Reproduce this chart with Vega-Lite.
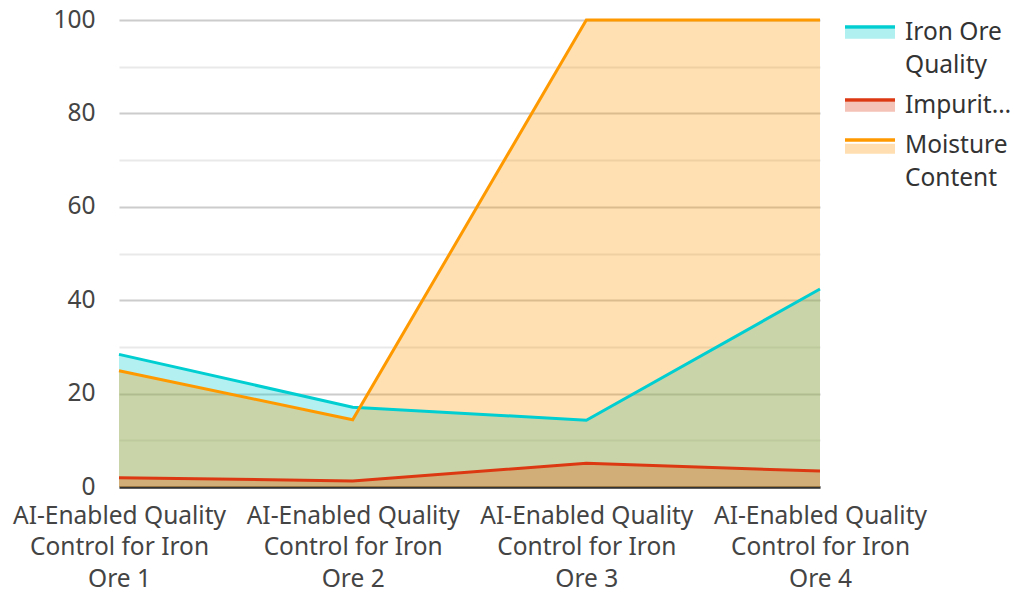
{
  "$schema": "https://vega.github.io/schema/vega-lite/v6.json",
  "width": 701,
  "height": 467,
  "autosize": {"type": "none"},
  "padding": {"left": 119, "top": 20, "right": 194, "bottom": 105},
  "background": "white",
  "config": {
    "font": "Noto Sans",
    "view": {"stroke": null},
    "axis": {"labelFont": "Noto Sans", "labelColor": "#444", "labelFontSize": 24.5},
    "legend": {"labelFont": "Noto Sans", "labelColor": "#333", "labelFontSize": 24.5}
  },
  "data": {
    "values": [
      {"cat": "AI-Enabled Quality Control for Iron Ore 1", "series": "Iron Ore Quality", "value": 28.4},
      {"cat": "AI-Enabled Quality Control for Iron Ore 2", "series": "Iron Ore Quality", "value": 17.1},
      {"cat": "AI-Enabled Quality Control for Iron Ore 3", "series": "Iron Ore Quality", "value": 14.3},
      {"cat": "AI-Enabled Quality Control for Iron Ore 4", "series": "Iron Ore Quality", "value": 42.4},
      {"cat": "AI-Enabled Quality Control for Iron Ore 1", "series": "Impurities", "value": 2.0},
      {"cat": "AI-Enabled Quality Control for Iron Ore 2", "series": "Impurities", "value": 1.3},
      {"cat": "AI-Enabled Quality Control for Iron Ore 3", "series": "Impurities", "value": 5.1},
      {"cat": "AI-Enabled Quality Control for Iron Ore 4", "series": "Impurities", "value": 3.4},
      {"cat": "AI-Enabled Quality Control for Iron Ore 1", "series": "Moisture Content", "value": 24.9},
      {"cat": "AI-Enabled Quality Control for Iron Ore 2", "series": "Moisture Content", "value": 14.4},
      {"cat": "AI-Enabled Quality Control for Iron Ore 3", "series": "Moisture Content", "value": 100},
      {"cat": "AI-Enabled Quality Control for Iron Ore 4", "series": "Moisture Content", "value": 100}
    ]
  },
  "encoding": {
    "x": {
      "field": "cat", "type": "ordinal", "title": null,
      "scale": {"type": "point", "padding": 0},
      "axis": {
        "labelAngle": 0, "ticks": false, "grid": false,
        "domainColor": "#333", "domainWidth": 2.5,
        "labelPadding": 17, "labelBaseline": "top", "labelLineHeight": 31.5,
        "labelLimit": 0,
        "labelExpr": "['AI-Enabled Quality', 'Control for Iron', replace(datum.label, 'AI-Enabled Quality Control for Iron ', '')]"
      }
    },
    "y": {
      "field": "value", "type": "quantitative", "title": null, "stack": null,
      "scale": {"domain": [0, 100], "nice": false},
      "axis": {
        "values": [0, 10, 20, 30, 40, 50, 60, 70, 80, 90, 100],
        "labelExpr": "datum.value % 20 == 0 ? datum.label : ''",
        "domain": false, "ticks": false, "labelPadding": 24,
        "gridWidth": 2,
        "gridColor": {"condition": {"test": "datum.value % 20 == 0", "value": "#cccccc"}, "value": "#e9e9e9"}
      }
    }
  },
  "layer": [
    {
      "mark": {"type": "area", "fillOpacity": 0.3},
      "encoding": {
        "fill": {
          "field": "series", "type": "nominal",
          "sort": ["Iron Ore Quality", "Impurities", "Moisture Content"],
          "scale": {"range": ["#00CED1", "#DC3912", "#FF9900"]},
          "legend": {
            "title": null, "orient": "none", "legendX": 726, "legendY": -14,
            "symbolType": "M-1,0.66H3V1.46H-1Z", "symbolSize": 625, "symbolOffset": -2,
            "symbolOpacity": 0.3, "symbolStrokeWidth": 3.5, "symbolStrokeColor": "transparent",
            "labelOpacity": 0, "labelOffset": 33, "labelBaseline": "top", "labelLimit": 0,
            "rowPadding": 2,
            "labelExpr": "datum.label == 'Iron Ore Quality' ? ['Iron Ore', 'Quality'] : datum.label == 'Impurities' ? 'Impurit…' : ['Moisture', 'Content']",
            "encode": {"labels": {"update": {"lineHeight": {"value": 33}}}}
          }
        }
      }
    },
    {
      "mark": {"type": "line", "strokeWidth": 3},
      "encoding": {
        "stroke": {
          "field": "series", "type": "nominal",
          "scale": {"domain": ["Iron Ore Quality", "Impurities", "Moisture Content"], "range": ["#00CED1", "#DC3912", "#FF9900"]},
          "legend": {
            "title": null, "orient": "none", "legendX": 726, "legendY": -14,
            "symbolType": "M-1,0.52H3", "symbolSize": 625, "symbolStrokeWidth": 3.5, "symbolOffset": -2,
            "labelOffset": 33, "labelBaseline": "top", "labelLimit": 0,
            "rowPadding": 2,
            "labelExpr": "datum.label == 'Iron Ore Quality' ? ['Iron Ore', 'Quality'] : datum.label == 'Impurities' ? 'Impurit…' : ['Moisture', 'Content']",
            "encode": {"labels": {"update": {"lineHeight": {"value": 33}}}}
          }
        }
      }
    }
  ]
}
